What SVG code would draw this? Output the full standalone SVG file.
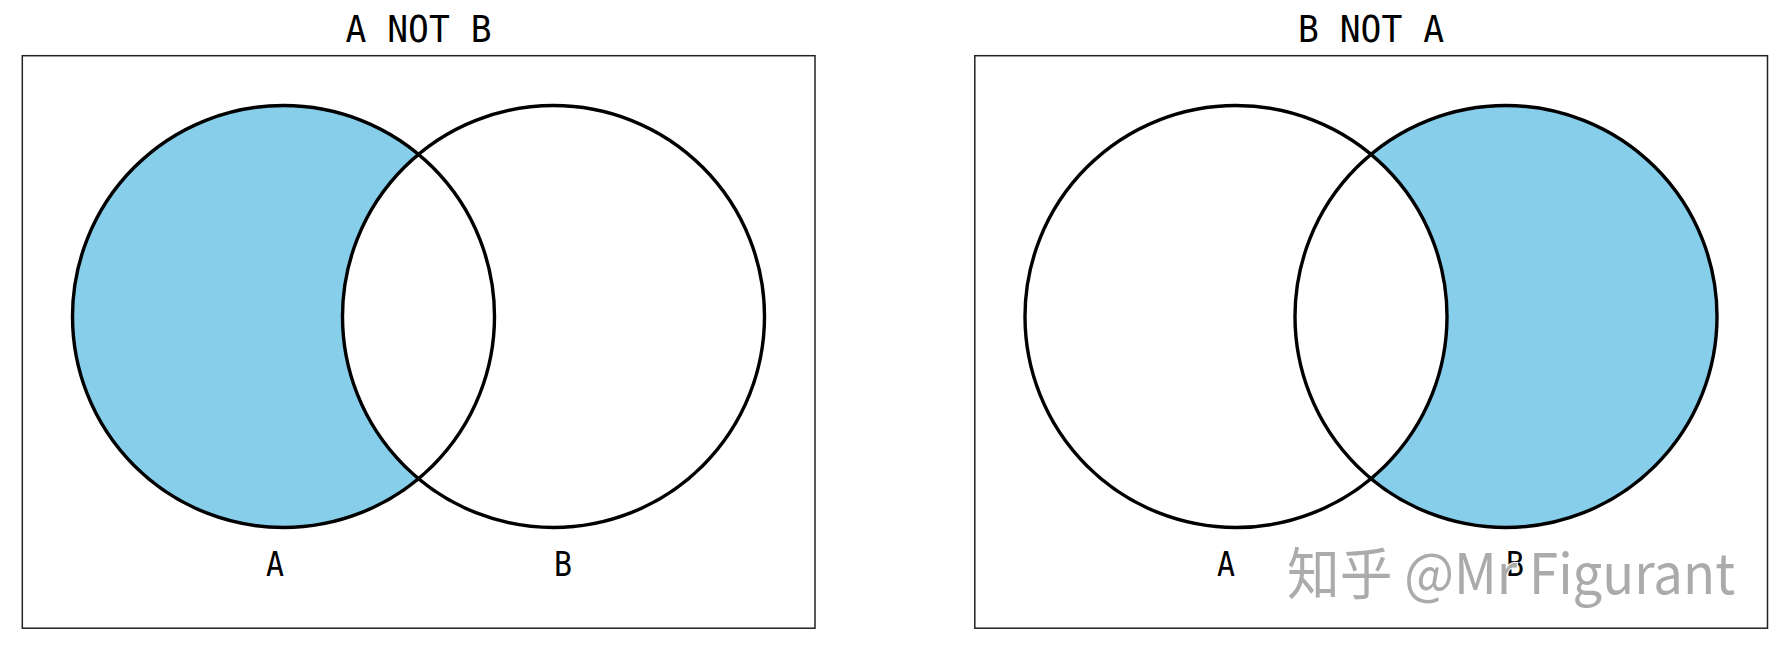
<svg xmlns="http://www.w3.org/2000/svg" width="1782" height="651" viewBox="0 0 1782 651">
  <style>
    .frame { fill: #ffffff; stroke: #222222; stroke-width: 1.5; }
    .shade { fill: #87CEEB; stroke: none; }
    .ring { fill: none; stroke: #000000; stroke-width: 3.4; }
    .title { font-family: "DejaVu Sans Mono", "Liberation Mono", monospace; font-size: 38px; fill: #000000; text-anchor: middle; }
    .label { font-family: "DejaVu Sans Mono", "Liberation Mono", monospace; font-size: 34px; fill: #000000; text-anchor: middle; }
    .wm { font-family: "Noto Sans CJK SC", "Noto Sans", sans-serif; font-size: 56px; fill: #ababab; stroke: #ffffff; stroke-width: 2; paint-order: stroke; }
  </style>
  <rect x="0" y="0" width="1782" height="651" fill="#ffffff"/>

  <g id="panel-a-not-b">
    <rect class="frame" x="22.3" y="55.7" width="792.7" height="572.5"/>
    <text class="title" x="418.5" y="42" textLength="146" lengthAdjust="spacingAndGlyphs">A NOT B</text>
    <path class="shade" d="M 418.5 154.34 A 211 211 0 1 0 418.5 478.66 A 211 211 0 0 1 418.5 154.34 Z"/>
    <g id="left-circle-a">
      <circle class="ring" cx="283.5" cy="316.5" r="211"/>
      <text class="label" x="275" y="576" textLength="18" lengthAdjust="spacingAndGlyphs">A</text>
    </g>
    <g id="left-circle-b">
      <circle class="ring" cx="553.5" cy="316.5" r="211"/>
      <text class="label" x="563" y="576" textLength="18" lengthAdjust="spacingAndGlyphs">B</text>
    </g>
  </g>

  <g id="panel-b-not-a">
    <rect class="frame" x="974.8" y="55.7" width="792.7" height="572.5"/>
    <text class="title" x="1371" y="42" textLength="146" lengthAdjust="spacingAndGlyphs">B NOT A</text>
    <path class="shade" d="M 1371 154.34 A 211 211 0 1 1 1371 478.66 A 211 211 0 0 0 1371 154.34 Z"/>
    <g id="right-circle-a">
      <circle class="ring" cx="1236" cy="316.5" r="211"/>
      <text class="label" x="1226" y="576" textLength="18" lengthAdjust="spacingAndGlyphs">A</text>
    </g>
    <g id="right-circle-b">
      <circle class="ring" cx="1506" cy="316.5" r="211"/>
      <text class="label" x="1515" y="576" textLength="18" lengthAdjust="spacingAndGlyphs">B</text>
    </g>
  </g>

  <g id="watermark">
    <text class="wm" x="1287" y="594" textLength="448" lengthAdjust="spacingAndGlyphs">知乎 @Mr Figurant</text>
  </g>
</svg>
